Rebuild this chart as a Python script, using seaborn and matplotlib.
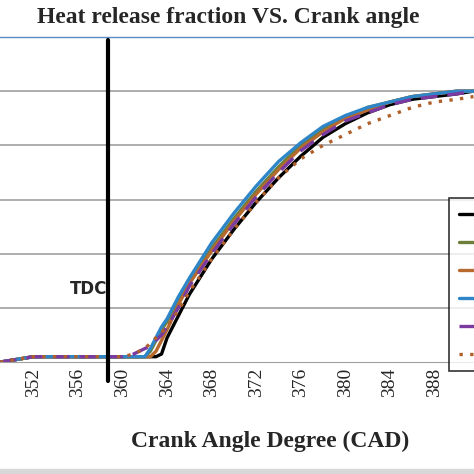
import numpy as np
import pandas as pd
import matplotlib
matplotlib.use("Agg")
import matplotlib.pyplot as plt
import seaborn as sns

cad = [349, 352, 356, 358, 360, 361, 362, 362.5, 363, 363.5, 364, 365, 366, 368, 370, 372, 374, 376, 378, 380, 382, 384, 386, 388, 390, 391.5]
case1 = [0.00, 0.02, 0.02, 0.02, 0.02, 0.02, 0.02, 0.02, 0.02, 0.03, 0.09, 0.17, 0.25, 0.38, 0.49, 0.59, 0.68, 0.76, 0.83, 0.88, 0.92, 0.95, 0.97, 0.98, 0.99, 1.00]
case2 = [0.00, 0.02, 0.02, 0.02, 0.02, 0.02, 0.02, 0.04, 0.08, 0.12, 0.15, 0.23, 0.30, 0.42, 0.53, 0.63, 0.72, 0.80, 0.86, 0.90, 0.94, 0.96, 0.98, 0.99, 1.00, 1.00]
case3 = [0.00, 0.02, 0.02, 0.02, 0.02, 0.02, 0.02, 0.02, 0.04, 0.08, 0.12, 0.21, 0.29, 0.41, 0.52, 0.62, 0.71, 0.79, 0.85, 0.90, 0.93, 0.96, 0.98, 0.99, 1.00, 1.00]
case4 = [0.00, 0.02, 0.02, 0.02, 0.02, 0.02, 0.02, 0.05, 0.09, 0.13, 0.16, 0.24, 0.31, 0.44, 0.55, 0.65, 0.74, 0.81, 0.87, 0.91, 0.94, 0.96, 0.98, 0.99, 1.00, 1.00]
case5 = [0.00, 0.02, 0.02, 0.02, 0.02, 0.03, 0.05, 0.06, 0.08, 0.10, 0.13, 0.20, 0.28, 0.40, 0.51, 0.61, 0.70, 0.78, 0.84, 0.89, 0.92, 0.95, 0.97, 0.98, 0.99, 1.00]
case6 = [0.00, 0.02, 0.02, 0.02, 0.02, 0.03, 0.05, 0.07, 0.09, 0.11, 0.13, 0.19, 0.26, 0.38, 0.49, 0.59, 0.68, 0.75, 0.80, 0.84, 0.88, 0.91, 0.94, 0.96, 0.97, 0.98]
labels = ["Case 1", "Case 2", "Case 3", "Case 4", "Case 5", "Case 6"]
tdc = 358.7

series = [case1, case2, case3, case4, case5, case6]
df = pd.concat([pd.DataFrame({"CAD": cad, "HRF": s, "case": l}) for s, l in zip(series, labels)])

sns.set_style("white")
fig = plt.figure(figsize=(4.74, 4.74), dpi=100)
ax = fig.add_axes([0.0, 0.236, 1.0, 0.686])

colors = ["#000000", "#6b7f3a", "#b8692e", "#2e86c8", "#7a3aa0", "#b0602a"]
styles = ["-", "-", "-", "-", (0, (5, 3)), (0, (1, 2.2))]
for (l, g), c, st in zip(df.groupby("case", sort=False), colors, styles):
    sns.lineplot(data=g, x="CAD", y="HRF", ax=ax, color=c, linestyle=st,
                 linewidth=2.4, label=l, dashes=False)

ax.plot([tdc, tdc], [-0.07, 1.19], color="black", lw=3, clip_on=False, zorder=5)
ax.text(tdc - 0.1, 0.27, "TDC", ha="right", va="center", fontsize=12,
        fontweight="bold", family="DejaVu Sans")

ax.set_yticks([0.2, 0.4, 0.6, 0.8, 1.0])
ax.yaxis.grid(True, color="#a0a0a0", lw=1.2)
ax.set_yticklabels([])
ax.tick_params(axis="y", length=0)
ax.set_xticks(np.arange(348, 392, 4))
ax.set_xticks(np.arange(350, 392, 2), minor=True)
ax.set_xlim(349, 391.55)
ax.set_ylim(0, 1.2)
ax.tick_params(axis="x", which="both", direction="in", length=5, color="#909090",
               labelrotation=90, labelsize=14, pad=4)
for t in ax.get_xticklabels():
    t.set_family("Liberation Serif")
for s in ["left", "right"]:
    ax.spines[s].set_visible(False)
ax.spines["top"].set_color("#5a8ac6")
ax.spines["top"].set_linewidth(1)
ax.spines["bottom"].set_color("#a0a0a0")
ax.set_xlabel("Crank Angle Degree (CAD)", fontsize=17, fontweight="bold",
              family="Liberation Serif", labelpad=6)
ax.xaxis.set_label_coords(0.57, -0.21)
ax.set_ylabel("")

leg = ax.legend(loc="lower left", bbox_to_anchor=(0.932, -0.052), frameon=True,
                fontsize=11, labelspacing=0.85, handlelength=2.0, borderpad=0.6,
                fancybox=False, edgecolor="black")
leg.get_frame().set_linewidth(1.2)
leg.set_clip_on(False)

fig.text(37 / 474, 1 - 17 / 474, "Heat release fraction VS. Crank angle",
         ha="left", va="center", fontsize=17, fontweight="bold", family="Liberation Serif")
fig.patches.append(plt.Rectangle((0, 0), 1, 5 / 474, transform=fig.transFigure,
                                 color="#d8d8d8", zorder=0))
fig.savefig("out.png", dpi=100)
